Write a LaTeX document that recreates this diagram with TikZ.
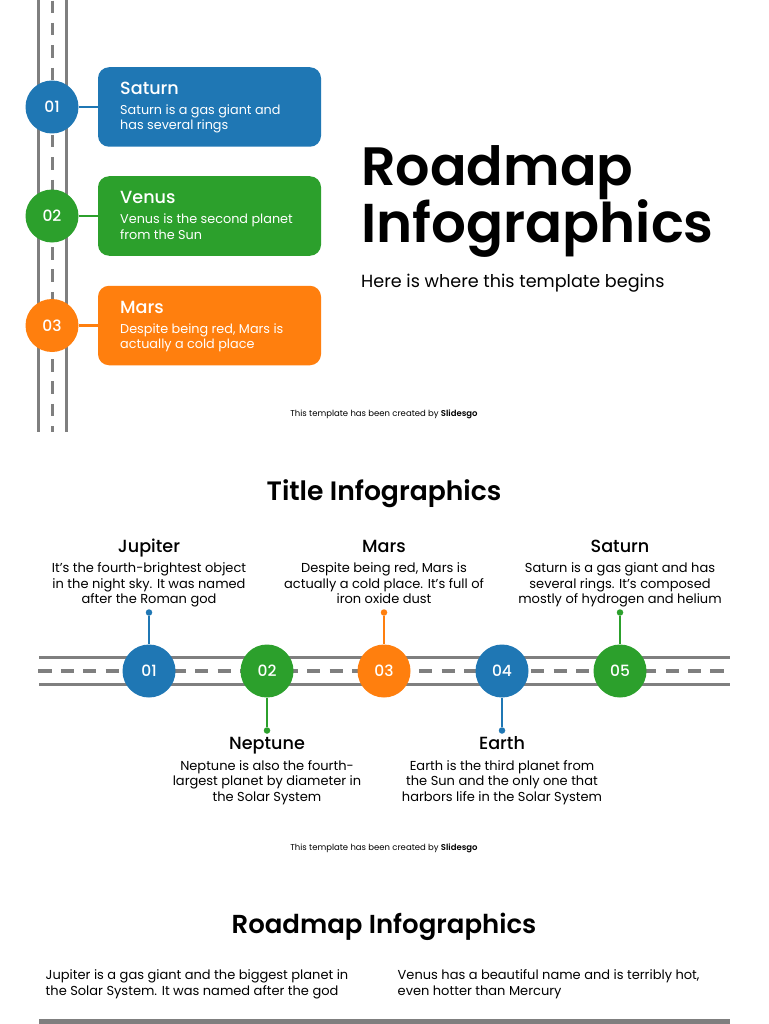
\documentclass[tikz,border=0pt]{standalone}
\usepackage{fontspec}
\setmainfont{Poppins}
\newfontfamily\pmed{Poppins Medium}
\newfontfamily\psemi{Poppins SemiBold}
\definecolor{cb}{HTML}{1F77B4}
\definecolor{cg}{HTML}{2CA02C}
\definecolor{co}{HTML}{FF7F0E}
\definecolor{rd}{HTML}{7F7F7F}
\newcommand{\fs}[1]{\fontsize{#1}{#1}\selectfont}
\tikzset{
  x=1pt,y=-1pt,
  road/.style={draw=rd,line width=3.6pt},
  roaddash/.style={draw=rd,line width=3.6pt},
  num/.style={circle,minimum size=53pt,inner sep=0pt,text=white,font=\fs{15.5}\pmed},
  card/.style={rounded corners=11pt,minimum width=223pt,minimum height=79.5pt,inner sep=0pt},
  cardtitle/.style={anchor=base west,text=white,inner sep=0pt,font=\fs{17.6}\pmed},
  cardtext/.style={anchor=base west,text=white,inner sep=0pt,font=\fs{12.8},align=left},
  head/.style={anchor=base,inner sep=0pt,font=\fs{17.6}\pmed},
  body/.style={anchor=base,inner sep=0pt,font=\fs{13},align=center},
  credit/.style={anchor=base,inner sep=0pt,font=\fs{8.5}},
  tip/.style={circle,minimum size=6.5pt,inner sep=0pt},
  stem/.style={line width=1.8pt},
  link/.style={line width=2.2pt},
  plain/.style={anchor=base west,inner sep=0pt,font=\fs{13},align=left},
}
\begin{document}
\begin{tikzpicture}
\useasboundingbox[fill=white] (0,0) rectangle (768,1024);
% left road
\draw[road] (38.5,0) -- (38.5,432);
\draw[road] (66.5,0) -- (66.5,432);
\draw[roaddash,line width=3pt,dash pattern=on 12.5pt off 9.9pt] (52,0.6) -- (52,432);
% cards
\node[card,fill=cb] (c1) at (209.5,107) {};
\node[card,fill=cg] (c2) at (209.5,216) {};
\node[card,fill=co] (c3) at (209.5,325.5) {};
\node[num,fill=cb] (n1) at (52,107) {01};
\node[num,fill=cg] (n2) at (52,216) {02};
\node[num,fill=co] (n3) at (52,325.5) {03};
\draw[link,cb] (n1) -- (c1);
\draw[link,cg] (n2) -- (c2);
\draw[link,co] (n3) -- (c3);
\node[cardtitle] (t1) at (120,94.5) {Saturn};
\node[cardtext] (b1a) at (120,114.7) {Saturn is a gas giant and};
\node[cardtext] (b1b) at (120,129.9) {has several rings};
\node[cardtitle] (t2) at (120,203.5) {Venus};
\node[cardtext] (b2a) at (120,224) {Venus is the second planet};
\node[cardtext] (b2b) at (120,239.2) {from the Sun};
\node[cardtitle] (t3) at (120,313) {Mars};
\node[cardtext] (b3a) at (120,333) {Despite being red, Mars is};
\node[cardtext] (b3b) at (120,348.2) {actually a cold place};
% main title
\node[anchor=base west,inner sep=0pt,font=\fs{54}\psemi] (m1) at (361,186) {Roadmap};
\node[anchor=base west,inner sep=0pt,font=\fs{54.7}\psemi] (m2) at (361,243) {Infographics};
\node[anchor=base west,inner sep=0pt,font=\fs{17.6}] (m3) at (361,287.3) {Here is where this template begins};
\node[credit] (cr1) at (384,416) {This template has been created by {\psemi Slidesgo}};
% second
\node[anchor=base,inner sep=0pt,font=\fs{26.6}\psemi] (t2nd) at (384,500) {Title Infographics};
\draw[road] (39,657.3) -- (730,657.3);
\draw[road] (39,684.3) -- (730,684.3);
\draw[roaddash,dash pattern=on 13.2pt off 9.2pt] (38.4,671) -- (730,671);
\node[num,fill=cb] (h1) at (149,671) {01};
\node[num,fill=cg] (h2) at (267,671) {02};
\node[num,fill=co] (h3) at (384,671) {03};
\node[num,fill=cb] (h4) at (502,671) {04};
\node[num,fill=cg] (h5) at (620,671) {05};
\node[tip,fill=cb] (d1) at (149,612.5) {};
\node[tip,fill=cg] (d2) at (267,730.5) {};
\node[tip,fill=co] (d3) at (384,612.5) {};
\node[tip,fill=cb] (d4) at (502,730.5) {};
\node[tip,fill=cg] (d5) at (620,612.5) {};
\draw[stem,cb] (d1) -- (h1);
\draw[stem,cg] (d2) -- (h2);
\draw[stem,co] (d3) -- (h3);
\draw[stem,cb] (d4) -- (h4);
\draw[stem,cg] (d5) -- (h5);
\node[head] (j) at (149,552.3) {Jupiter};
\node[body] (j1) at (149,572) {It’s the fourth-brightest object};
\node[body] (j2) at (149,588) {in the night sky. It was named};
\node[body] (j3) at (149,603) {after the Roman god};
\node[head] (ma) at (384,552.3) {Mars};
\node[body] (ma1) at (384,572) {Despite being red, Mars is};
\node[body] (ma2) at (384,588) {actually a cold place. It’s full of};
\node[body] (ma3) at (384,603) {iron oxide dust};
\node[head] (sa) at (620,552.3) {Saturn};
\node[body] (sa1) at (620,572) {Saturn is a gas giant and has};
\node[body] (sa2) at (620,588) {several rings. It’s composed};
\node[body] (sa3) at (620,603) {mostly of hydrogen and helium};
\node[head] (ne) at (267,749.5) {Neptune};
\node[body] (ne1) at (267,770) {Neptune is also the fourth-};
\node[body] (ne2) at (267,785) {largest planet by diameter in};
\node[body] (ne3) at (267,801) {the Solar System};
\node[head] (ea) at (502,749.5) {Earth};
\node[body] (ea1) at (502,770) {Earth is the third planet from};
\node[body] (ea2) at (502,785) {the Sun and the only one that};
\node[body] (ea3) at (502,801) {harbors life in the Solar System};
\node[credit] (cr2) at (384,850) {This template has been created by {\psemi Slidesgo}};
% third
\node[anchor=base,inner sep=0pt,font=\fs{26}\psemi] (t3rd) at (384,933) {Roadmap Infographics};
\node[plain] (p1) at (45.5,979) {Jupiter is a gas giant and the biggest planet in};
\node[plain] (p2) at (45.5,995) {the Solar System. It was named after the god};
\node[plain] (p3) at (397.5,979) {Venus has a beautiful name and is terribly hot,};
\node[plain] (p4) at (397.5,995) {even hotter than Mercury};
\fill[rd] (39,1019) rectangle (730,1024);
\end{tikzpicture}
\end{document}
